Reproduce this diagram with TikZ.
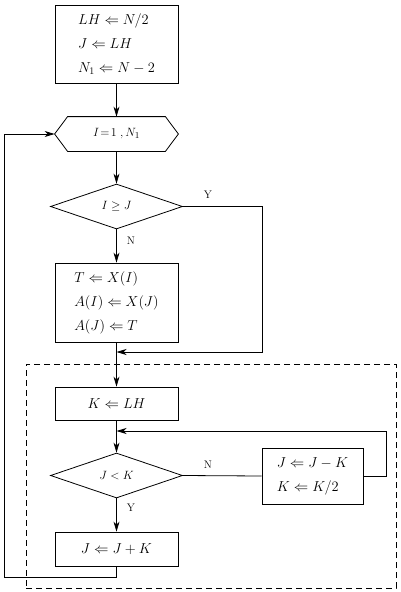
\documentclass[tikz,border=0pt]{standalone}
\usetikzlibrary{arrows.meta,shapes.geometric}
\begin{document}
\begin{tikzpicture}[x=1pt,y=-1pt,
  line width=0.8pt,
  box/.style={draw,rectangle,inner sep=0pt,minimum width=123pt,align=left,font=\fontsize{14}{24}\selectfont},
  dec/.style={draw,diamond,inner sep=0pt,minimum width=132pt,minimum height=45pt,aspect=2.9,font=\fontsize{12.5}{15}\selectfont},
  arr/.style={-{Stealth[length=10pt,width=6pt,inset=3pt]}},
  lab/.style={font=\fontsize{11}{13}\selectfont},
  grpbox/.style={draw,dashed,dash pattern=on 6pt off 4pt,inner sep=0pt}]
\useasboundingbox (0,0) rectangle (400,592);
\node[grpbox,minimum width=370pt,minimum height=224pt] (grp) at (211,476) {};
\node[box,minimum height=78pt] (b1) at (116.5,44) {$LH\Leftarrow N/2$\\ $J\Leftarrow LH$\\ $N_1\Leftarrow N-2$};
\node[inner sep=0pt,minimum width=123pt,minimum height=34pt,font=\fontsize{12.5}{15}\selectfont] (hex) at (116.5,134) {$I\!=\!1\;,N_1$};
\draw (hex.west) -- ([xshift=13pt]hex.north west) -- ([xshift=-13pt]hex.north east) -- (hex.east) -- ([xshift=-13pt]hex.south east) -- ([xshift=13pt]hex.south west) -- cycle;
\node[dec] (d1) at (116.5,206.5) {$I\geq J$};
\node[box,minimum height=79pt] (b2) at (116.5,302.5) {$T\Leftarrow X(I)$\\ $A(I)\Leftarrow X(J)$\\ $A(J)\Leftarrow T$};
\node[box,minimum height=33pt] (b3) at (116.5,403.5) {$K\Leftarrow LH$};
\node[dec] (d2) at (116.5,475.5) {$J<K$};
\node[box,minimum width=101pt,minimum height=56pt] (b4) at (312.5,476) {$J\Leftarrow J-K$\\ $K\Leftarrow K/2$};
\node[box,minimum height=34pt] (b5) at (116.5,549) {$J\Leftarrow J+K$};
\coordinate (j1) at (116.5,352);
\coordinate (c1) at (262,352);
\coordinate (j2) at (116.5,431);
\coordinate (c2) at (386,431);
\coordinate (c3) at (4,577);
\draw[arr] (b1) -- (hex);
\draw[arr] (hex) -- (d1);
\draw[arr] (d1) -- (b2);
\draw[arr] (d1.east) -| (c1) -- (j1);
\draw[arr] (b2) -- (b3);
\draw[arr] (b3) -- (d2);
\draw (d2.east) -- (b4.west);
\draw[arr] (b4.east) -| (c2) -- (j2);
\draw[arr] (d2) -- (b5);
\draw[arr] (b5.south) |- (c3) |- (hex.west);
\node[lab] (ly1) at (208,195) {Y};
\node[lab] (ln1) at (131,241) {N};
\node[lab] (ln2) at (208,465) {N};
\node[lab] (ly2) at (131,508) {Y};
\end{tikzpicture}
\end{document}
